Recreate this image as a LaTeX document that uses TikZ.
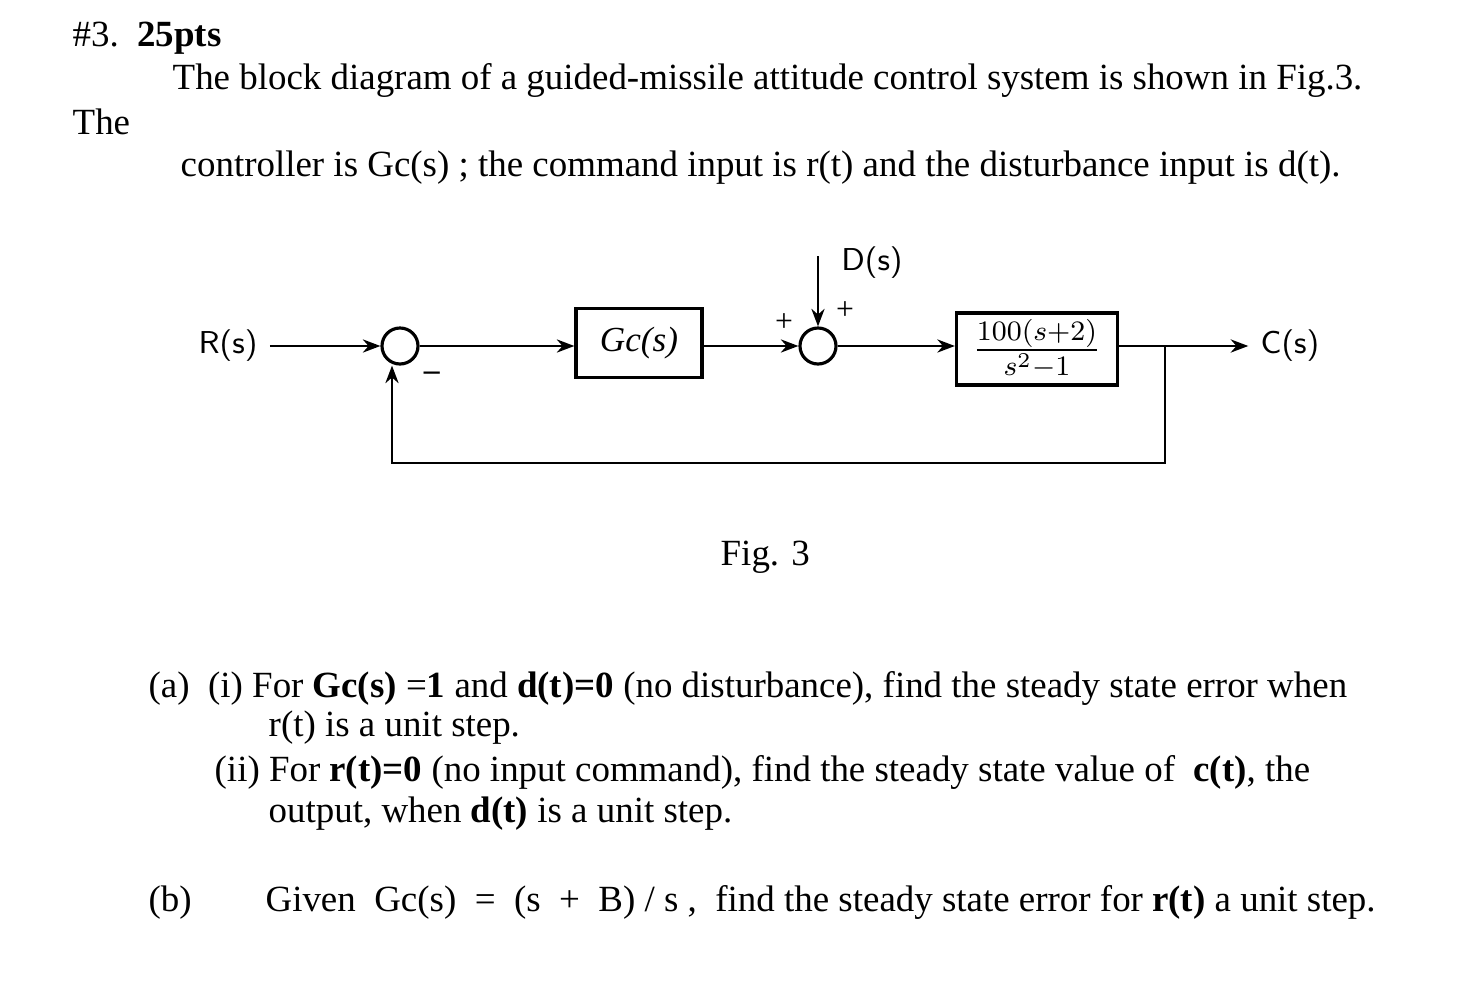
\documentclass[tikz,border=0pt]{standalone}
\usepackage{fontspec}
\setmainfont{Liberation Serif}
\usetikzlibrary{arrows.meta}
\begin{document}
\begin{tikzpicture}[x=0.01cm,y=-0.01cm,
  txt/.style={anchor=west,inner sep=0,font=\fontsize{10.5}{12}\selectfont},
  blk/.style={draw,line width=0.9pt,minimum width=1.26cm,minimum height=0.69cm,inner sep=0},
  sum/.style={draw,circle,line width=0.9pt,minimum size=0.36cm,inner sep=0},
  sig/.style={-{Stealth[length=5pt]},line width=0.7pt},
  hw/.style={font=\fontsize{9}{10}\selectfont\sffamily}]
\useasboundingbox (0,0) rectangle (1484,1006);
\node[txt] (h) at (72,38) {\#3.\ \ \textbf{25pts}};
\node[txt] (l1) at (172,80) {The block diagram of a guided-missile attitude control system is shown in Fig.3.};
\node[txt] (l2) at (72,122) {The};
\node[txt] (l3) at (180,168) {controller is Gc(s) ; the command input is r(t) and the disturbance input is d(t).};
% diagram
\node[hw] (R) at (228,346) {R(s)};
\node[sum] (s1) at (400,346) {};
\node[blk] (G) at (639,343) {\textit{Gc(s)}};
\node[sum] (s2) at (818,346) {};
\node[blk,minimum width=1.61cm,minimum height=0.72cm] (P) at (1037,349) {\large$\frac{100(s+2)}{s^2-1}$};
\coordinate (br) at (1165,346);
\node[hw] (C) at (1290,346) {C(s)};
\coordinate (dtop) at (818,256);
\node[hw] (D) at (872,263) {D(s)};
\coordinate (fb1) at (1165,463);
\coordinate (fb2) at (392,463);
\draw[sig] (R) -- (s1);
\draw[sig] (s1) -- (s1 -| G.west);
\draw[sig] (s2 -| G.east) -- (s2);
\draw[sig] (s2) -- (s2 -| P.west);
\draw[line width=0.7pt] (br -| P.east) -- (br);
\draw[sig] (br) -- (C);
\draw[sig] (dtop) -- (s2);
\draw[sig] (br) -- (fb1) -- (fb2) -- (s1.south -| fb2);
\node[font=\small] (p1) at (845,311) {+};
\node[font=\small] (p2) at (784,323) {+};
\node[font=\small] (m) at (432,376) {\textbf{--}};
\node[txt] (fig) at (720,557) {Fig. 3};
\node[txt] (a1) at (148,688) {(a)\ \ (i) For \textbf{Gc(s)} =\textbf{1} and \textbf{d(t)=0} (no disturbance), find the steady state error when};
\node[txt] (a2) at (268,728) {r(t) is a unit step.};
\node[txt] (a3) at (214,772) {(ii) For \textbf{r(t)=0} (no input command), find the steady state value of \ \textbf{c(t)}, the};
\node[txt] (a4) at (268,814) {output, when \textbf{d(t)} is a unit step.};
\node[txt] (b1) at (148,902) {(b)\qquad Given \ Gc(s) \ = \ (s \ + \ B) / s , \ find the steady state error for \textbf{r(t)} a unit step.};
\end{tikzpicture}
\end{document}
